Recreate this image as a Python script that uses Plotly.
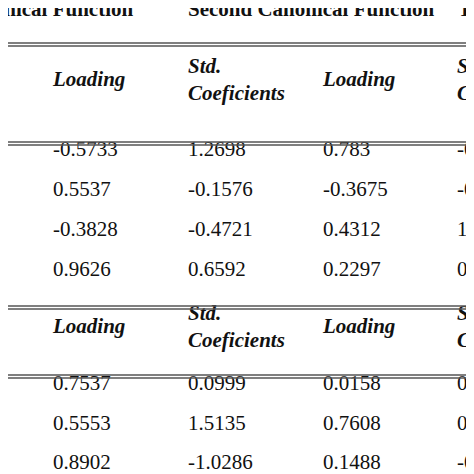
import plotly.graph_objects as go

# canonical function headers (cropped at both sides in the source)
functions = ["First Canonical Function", "Second Canonical Function", "Third Canonical Function"]
sub_headers = ["Std.<br>Coeficients", "Loading", "Std.<br>Coeficients", "Loading", "Std.<br>Coeficients"]

# block 1 values: first loading, second std coef, second loading, third std coef (cut off)
b1_load1 = ["-0.5733", "0.5537", "-0.3828", "0.9626"]
b1_std2 = ["1.2698", "-0.1576", "-0.4721", "0.6592"]
b1_load2 = ["0.783", "-0.3675", "0.4312", "0.2297"]
b1_std3 = ["-0.", "-0.", "1.", "0."]

# block 2 values
b2_load1 = ["0.7537", "0.5553", "0.8902"]
b2_std2 = ["0.0999", "1.5135", "-1.0286"]
b2_load2 = ["0.0158", "0.7608", "0.1488"]
b2_std3 = ["0.", "0.", "-0."]

col_x = [-105, 45, 180, 315, 449]
func_x = [-100, 180, 450]
b1_rows = [143, 183, 223, 263]
b2_rows = [377, 417, 456]

fig = go.Figure()
font_v = dict(family="Liberation Serif", size=21, color="#111")
font_h = dict(family="Liberation Serif", size=21, color="#111")


def add_text(xs, ys, texts, font):
    fig.add_trace(go.Scatter(x=xs, y=ys, text=texts, mode="text", textposition="middle right",
                             textfont=font, cliponaxis=True, hoverinfo="skip", showlegend=False))


add_text(func_x, [3] * 3, ["<b>%s</b>" % f for f in functions], font_h)
for hy in [73, 320]:
    add_text(col_x, [hy] * 5, ["<b><i>%s</i></b>" % s for s in sub_headers], font_h)

for xi, col in zip(col_x[1:], [b1_load1, b1_std2, b1_load2, b1_std3]):
    add_text([xi] * len(col), b1_rows, col, font_v)
for xi, col in zip(col_x[1:], [b2_load1, b2_std2, b2_load2, b2_std3]):
    add_text([xi] * len(col), b2_rows, col, font_v)

for ly in [35, 134, 298, 367]:
    for off in [0, 3]:
        fig.add_shape(type="line", x0=0, x1=474, y0=ly + off, y1=ly + off,
                      line=dict(color="#555", width=1.3))

fig.update_xaxes(range=[0, 474], visible=False)
fig.update_yaxes(range=[474, 0], visible=False)
fig.update_layout(width=474, height=474, margin=dict(l=0, r=0, t=0, b=0),
                  plot_bgcolor="white", paper_bgcolor="white")
fig.write_html("out.html")
